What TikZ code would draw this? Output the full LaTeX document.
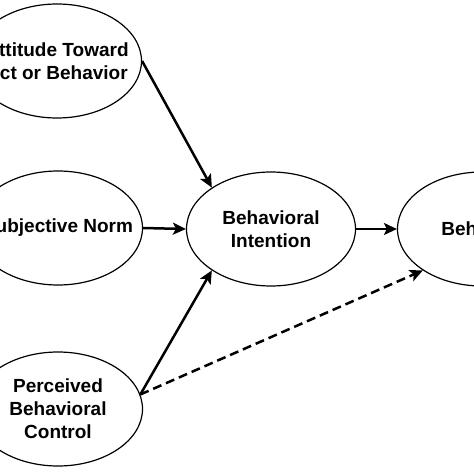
\documentclass[tikz,border=0pt]{standalone}
\usepackage{fontspec}
\setmainfont{Liberation Sans}
\usetikzlibrary{arrows.meta,shapes.geometric}
\begin{document}
\begin{tikzpicture}[x=1pt,y=-1pt,
  bubble/.style={draw,ellipse,line width=1.2pt,minimum width=169pt,minimum height=114pt,inner xsep=-30pt,inner ysep=0pt,align=center,font=\fontsize{19}{23}\selectfont\bfseries},
  link/.style={line width=2.5pt,-{Stealth[length=13pt,width=12pt,inset=3pt]}}]
\useasboundingbox (0,0) rectangle (474,474);
\clip (0,0) rectangle (474,474);
\node[bubble] (att) at (57,61) {Attitude Toward\\Act or Behavior};
\node[bubble] (sn) at (58,228) {Subjective Norm};
\node[bubble] (pbc) at (58,409) {Perceived\\Behavioral\\Control};
\node[bubble] (int) at (271,229) {Behavioral\\Intention};
\node[bubble] (beh) at (482,229) {Behavior};
\draw[link] (att.east) -- (int.145);
\draw[link] (sn.east) -- (int.west);
\draw[link] (pbc.10) -- (int.215);
\draw[link] (int.east) -- (beh.west);
\draw[link,dash pattern=on 9pt off 5pt] (pbc.10) -- (beh.215);
\end{tikzpicture}
\end{document}
